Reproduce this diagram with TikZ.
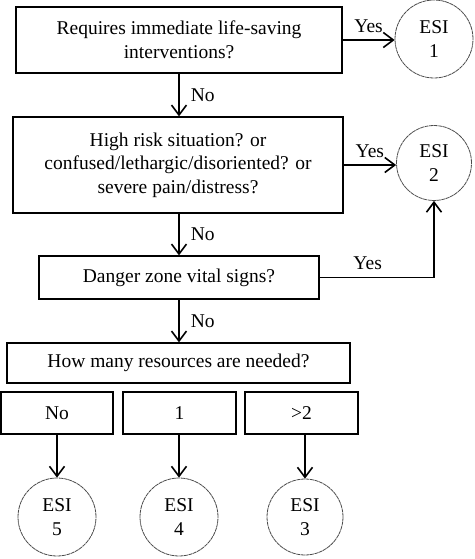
\documentclass[tikz,border=0pt]{standalone}
\usepackage{fontspec}
\setmainfont{Liberation Serif}
\usetikzlibrary{arrows.meta}

\tikzset{every picture/.style={line width=1.2pt}}
\tikzset{
  qbox/.style={draw, rectangle, align=center, inner sep=0pt, font=\fontsize{19.5}{23.5}\selectfont},
  esi/.style={draw=black!70, line width=0.8pt, dash pattern=on 4pt off 0.6pt, circle, align=center, inner sep=0pt, font=\fontsize{19.5}{23.5}\selectfont},
  lbl/.style={font=\fontsize{19.5}{23.5}\selectfont, inner sep=3pt},
  flow/.style={line width=1.6pt, -{Straight Barb[length=10pt,width=15pt,line width=1.6pt]}}
}

\begin{document}
\begin{tikzpicture}[x=1pt,y=1pt,yscale=-1,xscale=1]
\useasboundingbox (0,0) rectangle (474,559);

% Question boxes
\node [qbox, minimum width=326pt, minimum height=66pt] (q1) at (179,40) {Requires immediate life-saving\\interventions?};
\node [qbox, minimum width=330pt, minimum height=96pt] (q2) at (178,165) {High risk situation? or\\confused/lethargic/disoriented? or\\severe pain/distress?};
\node [qbox, minimum width=280pt, minimum height=43pt] (q3) at (179,277.5) {Danger zone vital signs?};
\node [qbox, minimum width=343pt, minimum height=40pt] (q4) at (178.5,363) {How many resources are needed?};

% Resource boxes
\node [qbox, minimum width=112pt, minimum height=42pt] (r0) at (57,413) {No};
\node [qbox, minimum width=113pt, minimum height=42pt] (r1) at (179.5,413) {1};
\node [qbox, minimum width=113pt, minimum height=42pt] (r2) at (301.5,413) {>2};

% ESI circles
\node [esi, minimum size=78pt] (e1) at (434,39) {ESI\\1};
\node [esi, minimum size=75pt] (e2) at (434,163) {ESI\\2};
\node [esi, minimum size=78pt] (e5) at (57,517) {ESI\\5};
\node [esi, minimum size=78pt] (e4) at (179,517) {ESI\\4};
\node [esi, minimum size=76pt] (e3) at (305,517) {ESI\\3};

% Yes arrows
\draw [flow] (q1.east) -- (q1.east -| e1.west) node [lbl, above, midway, yshift=4pt] {Yes};
\draw [flow] (q2.east) -- (q2.east -| e2.west) node [lbl, above, midway, yshift=4pt] {Yes};
\draw [flow] (q3.east) -| (e2.south) node [lbl, above, pos=0.21, yshift=4pt] {Yes};

% No arrows
\draw [flow] (q1.south) -- (q1.south |- q2.north) node [lbl, right, midway, xshift=8pt] {No};
\draw [flow] (q3.north |- q2.south) -- (q3.north) node [lbl, right, midway, xshift=8pt] {No};
\draw [flow] (q3.south) -- (q3.south |- q4.north) node [lbl, right, midway, xshift=8pt] {No};

% Resource arrows
\draw [flow] (e5.north |- r0.south) -- (e5.north);
\draw [flow] (e4.north |- r1.south) -- (e4.north);
\draw [flow] (e3.north |- r2.south) -- (e3.north);

\end{tikzpicture}
\end{document}
